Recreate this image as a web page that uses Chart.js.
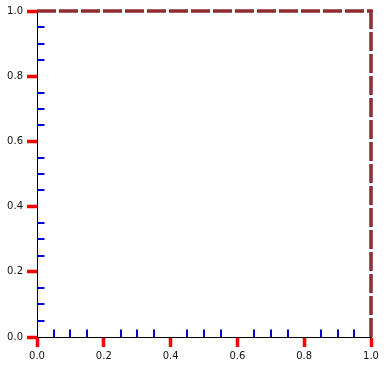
<!DOCTYPE html>
<html>
<head>
<meta charset="utf-8">
<script src="https://cdn.jsdelivr.net/npm/chart.js@4"></script>
<style>
  body { margin: 0; background: #fff; }
  canvas { display: block; }
</style>
</head>
<body>
<canvas id="plot" width="386" height="368"></canvas>
<script>
// axis range and ticks (empty plot, just the frame)
let axisRange = [0, 1];
let majorTicks = [0, 0.2, 0.4, 0.6, 0.8, 1.0];
let minorTicks = [0.05, 0.1, 0.15, 0.25, 0.3, 0.35, 0.45, 0.5, 0.55, 0.65, 0.7, 0.75, 0.85, 0.9, 0.95];

let spineColor = "#8e2c31";

// minor ticks point inward, top/right spines are dashed
let framePlugin = {
  id: "frame",
  afterDraw(chart) {
    let ctx = chart.ctx;
    let a = chart.chartArea;
    let xs = chart.scales.x;
    let ys = chart.scales.y;
    ctx.save();
    ctx.strokeStyle = "#0000d0";
    ctx.lineWidth = 2;
    minorTicks.forEach(function (v) {
      let px = Math.round(xs.getPixelForValue(v));
      ctx.beginPath();
      ctx.moveTo(px, a.bottom);
      ctx.lineTo(px, a.bottom - 7.5);
      ctx.stroke();
      let py = Math.round(ys.getPixelForValue(v));
      ctx.beginPath();
      ctx.moveTo(a.left, py);
      ctx.lineTo(a.left + 7.5, py);
      ctx.stroke();
    });
    ctx.strokeStyle = spineColor;
    ctx.lineWidth = 3.5;
    ctx.lineCap = "butt";
    ctx.setLineDash([19, 3]);
    ctx.beginPath();
    ctx.moveTo(a.left, a.top);
    ctx.lineTo(a.right + 1.75, a.top);
    ctx.stroke();
    ctx.beginPath();
    ctx.moveTo(a.right, a.bottom);
    ctx.lineTo(a.right, a.top - 1.75);
    ctx.stroke();
    ctx.restore();
  },
};

function axisOpts(pos) {
  return {
    type: "linear",
    position: pos,
    min: axisRange[0],
    max: axisRange[1],
    afterBuildTicks: function (s) {
      s.ticks = majorTicks.map(function (v) { return { value: v }; });
    },
    afterFit: function (s) {
      if (pos === "left") s.width = 37;
      else s.height = 31;
    },
    grid: {
      drawOnChartArea: false,
      drawTicks: true,
      tickLength: 10,
      tickWidth: 3.5,
      tickColor: "#ff0000",
    },
    border: { display: true, color: "#000", width: 1 },
    ticks: {
      color: "#111",
      padding: pos === "left" ? 4 : 3,
      font: { family: "DejaVu Sans", size: 10 },
      callback: function (v) { return Number(v).toFixed(1); },
    },
  };
}

let plot = new Chart(document.getElementById("plot").getContext("2d"), {
  type: "scatter",
  data: { datasets: [{ data: [] }] },
  options: {
    responsive: false,
    animation: false,
    layout: { padding: { top: 11, right: 15, left: 0, bottom: 0 } },
    plugins: { legend: { display: false }, tooltip: { enabled: false } },
    scales: {
      x: axisOpts("bottom"),
      y: axisOpts("left"),
    },
  },
  plugins: [framePlugin],
});
</script>
</body>
</html>
